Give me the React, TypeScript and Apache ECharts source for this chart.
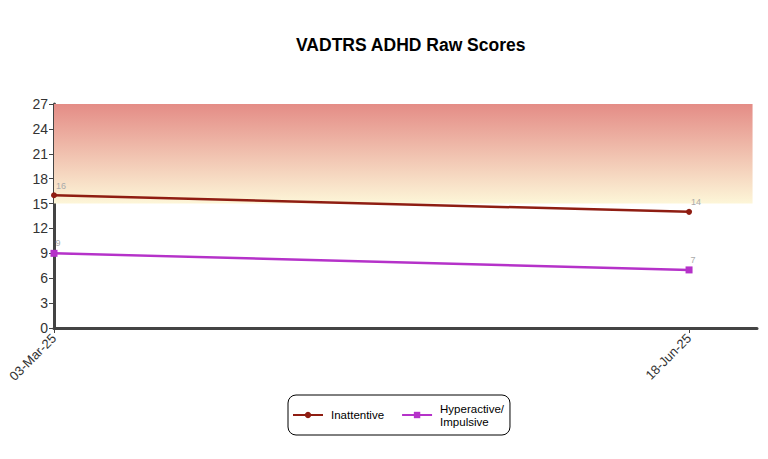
import React, { useEffect, useRef } from "react";
import * as echarts from "echarts";

const dates = ["03-Mar-25", "18-Jun-25"];
const inattentive = [16, 14];
const hyperactive = [9, 7];
const yTicks = { min: 0, max: 27, interval: 3 };
const bandRange = [15, 27];

export default function App() {
  const ref = useRef<HTMLDivElement>(null);
  useEffect(() => {
    const chart = echarts.init(ref.current!, null, { renderer: "svg" });
    const fontFamily = "Liberation Sans, Arial, sans-serif";
    const toPts = (arr: number[]) => arr.map((v, i) => [i, v]);
    chart.setOption({
      animation: false,
      title: {
        text: "VADTRS ADHD Raw Scores",
        left: 291,
        top: 31,
        textStyle: { fontSize: 17.5, fontWeight: "bold", color: "#000", fontFamily },
      },
      grid: { left: 54, right: 11, top: 104, bottom: 131 },
      legend: {
        bottom: 24,
        left: 288,
        itemGap: 17,
        padding: [7, 6, 7, 4],
        borderColor: "#000",
        borderWidth: 1,
        borderRadius: 8,
        itemWidth: 30,
        itemHeight: 8,
        textStyle: { fontSize: 11.5, color: "#000", fontFamily, lineHeight: 13, padding: [0, 0, 0, 3] },
        data: ["Inattentive", "Hyperactive/\nImpulsive"],
      },
      xAxis: {
        type: "value",
        min: 0,
        max: 1.107,
        interval: 1,
        splitLine: { show: false },
        axisLine: { show: true, lineStyle: { color: "#444", width: 3 } },
        axisTick: { show: true, length: 5, lineStyle: { color: "#444", width: 1 } },
        axisLabel: {
          rotate: 45,
          showMaxLabel: false,
          fontSize: 13,
          color: "#333",
          fontFamily,
          formatter: (v: number) => (Math.abs(v - Math.round(v)) < 1e-6 && dates[Math.round(v)]) || "",
        },
      },
      yAxis: {
        type: "value",
        min: yTicks.min,
        max: yTicks.max,
        interval: yTicks.interval,
        splitLine: { show: false },
        axisLine: { show: true, lineStyle: { color: "#444", width: 3 } },
        axisTick: { show: true, length: 5, lineStyle: { color: "#444", width: 1 } },
        axisLabel: { fontSize: 14, color: "#333", fontFamily, margin: 6 },
      },
      series: [
        {
          name: "Inattentive",
          type: "line",
          data: toPts(inattentive),
          color: "#8f1d12",
          symbol: "circle",
          symbolSize: 6,
          lineStyle: { width: 2.5, color: "#8f1d12" },
          itemStyle: { color: "#8f1d12" },
          label: {
            show: true,
            position: [5, -11],
            fontSize: 9,
            color: "#aaa",
            fontFamily,
          },
          z: 3,
          markArea: {
            silent: true,
            itemStyle: {
              color: new echarts.graphic.LinearGradient(0, 0, 0, 1, [
                { offset: 0, color: "#e48c86" },
                { offset: 1, color: "#fdf6d8" },
              ]),
            },
            data: [[{ coord: [0, bandRange[1]] }, { coord: [1.1, bandRange[0]] }]],
          },
        },
        {
          name: "Hyperactive/\nImpulsive",
          type: "line",
          data: toPts(hyperactive),
          color: "#b532c9",
          symbol: "rect",
          symbolSize: 7,
          lineStyle: { width: 2.5, color: "#b532c9" },
          itemStyle: { color: "#b532c9" },
          label: {
            show: true,
            position: [5, -11],
            fontSize: 9,
            color: "#aaa",
            fontFamily,
          },
          z: 3,
        },
      ],
    });
    return () => chart.dispose();
  }, []);
  return <div ref={ref} style={{ width: 768, height: 459, margin: -8 }} />;
}
